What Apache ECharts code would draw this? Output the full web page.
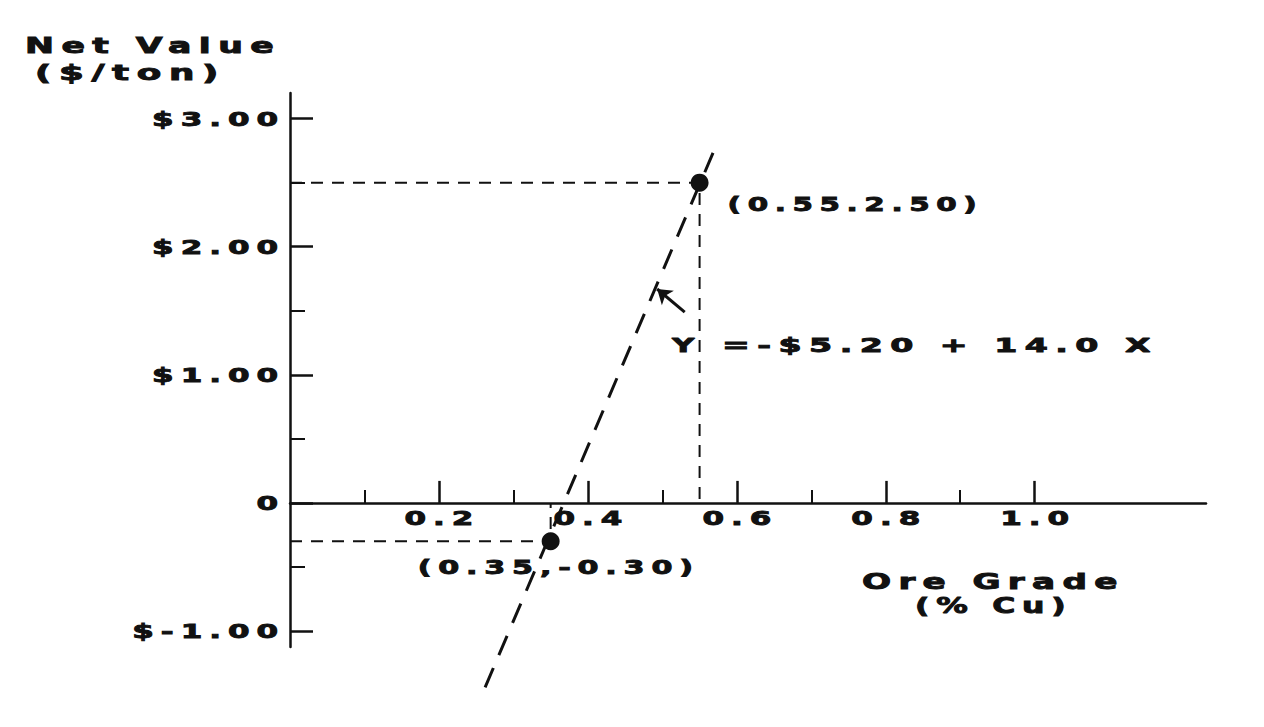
<!DOCTYPE html>
<html>
<head>
<meta charset="utf-8">
<title>Net Value vs Ore Grade</title>
<script src="https://cdn.jsdelivr.net/npm/echarts@6/dist/echarts.min.js"></script>
<style>
  html, body { margin: 0; padding: 0; background: #fff; }
  #chart { width: 1264px; height: 727px; }
  /* the scanned figure uses a wide, spaced-out lettering */
  #chart text { letter-spacing: 4.5px; }
</style>
</head>
<body>
<div id="chart"></div>
<script>
  // ore grade (% Cu) and net value ($/ton)
  var xMajorTicks = [0.2, 0.4, 0.6, 0.8, 1.0];
  var xMinorTicks = [0.1, 0.3, 0.5, 0.7, 0.9];
  var yMajorTicks = [-1, 0, 1, 2, 3];
  var yMinorTicks = [-0.5, 0.5, 1.5, 2.5];
  var yTickLabels = ['$-1.00', '0', '$1.00', '$2.00', '$3.00'];

  var pointsX = [0.55, 0.35];
  var pointsY = [2.50, -0.30];
  var pointLabels = ['(0.55.2.50)', '(0.35,-0.30)'];

  // ends of the dashed regression line, as drawn
  var lineX = [0.262, 0.573];
  var lineY = [-1.44, 2.80];

  // small arrow pointing at the line
  var arrowFrom = [0.530, 1.49];
  var arrowTo = [0.493, 1.67];

  var FONT = 'DejaVu Sans';
  var INK = '#111';

  var chart = echarts.init(document.getElementById('chart'), null, {renderer: 'svg'});

  /*每个点的虚线：从 y 轴到点，再到 x 轴*/
  var guideSeries = [];
  for (var i = 0; i < pointsX.length; i++) {
    guideSeries.push({
      type: 'line',
      data: [[0, pointsY[i]], [pointsX[i], pointsY[i]], [pointsX[i], 0]],
      symbol: 'none',
      silent: true,
      lineStyle: {color: INK, width: 2, type: [12, 9]},
      z: 2
    });
  }

  var option = {
    animation: false,
    backgroundColor: '#fff',
    grid: {left: 290, right: 58, top: 93, bottom: 80, outerBoundsMode: 'none'},
    xAxis: [{
      type: 'value',
      min: 0,
      max: 1.23,
      position: 'bottom',
      axisLine: {show: true, onZero: true, onZeroAxisIndex: 0, lineStyle: {color: INK, width: 2.5}},
      axisTick: {show: true, inside: true, length: 22, customValues: xMajorTicks, lineStyle: {color: INK, width: 2.5}},
      axisLabel: {show: false},
      splitLine: {show: false}
    }, {
      type: 'value',
      min: 0,
      max: 1.23,
      position: 'bottom',
      axisLine: {show: false, onZero: true, onZeroAxisIndex: 0},
      axisTick: {show: true, inside: true, length: 13, customValues: xMinorTicks, lineStyle: {color: INK, width: 2}},
      axisLabel: {show: false},
      splitLine: {show: false}
    }],
    yAxis: [{
      type: 'value',
      min: -1.125,
      max: 3.2,
      position: 'left',
      axisLine: {show: true, onZero: true, onZeroAxisIndex: 0, lineStyle: {color: INK, width: 2.5}},
      axisTick: {show: true, inside: true, length: 23, customValues: yMajorTicks, lineStyle: {color: INK, width: 2.5}},
      axisLabel: {show: false},
      splitLine: {show: false}
    }, {
      type: 'value',
      min: -1.125,
      max: 3.2,
      position: 'left',
      axisLine: {show: false, onZero: true, onZeroAxisIndex: 0},
      axisTick: {show: true, inside: true, length: 15, customValues: yMinorTicks, lineStyle: {color: INK, width: 2}},
      axisLabel: {show: false},
      splitLine: {show: false}
    }],
    series: guideSeries.concat([{
      type: 'line',
      name: 'Y = -5.20 + 14.0 X',
      data: [[lineX[0], lineY[0]], [lineX[1], lineY[1]]],
      symbol: 'none',
      silent: true,
      clip: false,
      lineStyle: {color: INK, width: 3, type: [21, 14]},
      z: 3,
      markLine: {
        silent: true,
        symbol: ['none', 'arrow'],
        symbolSize: 14,
        label: {show: false},
        lineStyle: {color: INK, width: 3, type: 'solid'},
        data: [[{coord: arrowFrom}, {coord: arrowTo}]]
      }
    }, {
      type: 'scatter',
      data: pointsX.map(function (x, k) { return [x, pointsY[k]]; }),
      symbol: 'circle',
      symbolSize: 18,
      itemStyle: {color: INK, opacity: 1},
      z: 5
    }])
  };

  chart.setOption(option);

  /*---------- 文字：宽体字，用 scaleX 拉宽 ----------*/
  function px(x, y) {
    return chart.convertToPixel({xAxisIndex: 0, yAxisIndex: 0}, [x, y]);
  }

  function wideText(text, x, y, align, sx, size) {
    return {
      type: 'text',
      x: x,
      y: y,
      scaleX: sx,
      silent: true,
      style: {
        text: text,
        fill: INK,
        stroke: INK,
        lineWidth: 0.9,
        font: 'bold ' + size + 'px "' + FONT + '"',
        textAlign: align,
        textVerticalAlign: 'middle'
      }
    };
  }

  var gfx = [];
  // y tick labels
  for (var a = 0; a < yMajorTicks.length; a++) {
    var p = px(0, yMajorTicks[a]);
    gfx.push(wideText(yTickLabels[a], p[0] - 5, p[1], 'right', 1.55, 20));
  }
  // x tick labels
  for (var b = 0; b < xMajorTicks.length; b++) {
    var q = px(xMajorTicks[b], 0);
    gfx.push(wideText(xMajorTicks[b].toFixed(1), q[0] + 3.5, q[1] + 15, 'center', 1.55, 20));
  }
  // point labels
  var labelOffset = [[28, 22], [-133, 26]];
  var labelScale = [1.47, 1.51];
  for (var c = 0; c < pointsX.length; c++) {
    var r = px(pointsX[c], pointsY[c]);
    gfx.push(wideText(pointLabels[c], r[0] + labelOffset[c][0], r[1] + labelOffset[c][1], 'left', labelScale[c], 20));
  }
  // axis names and equation
  gfx.push(wideText('Net Value', 25, 46, 'left', 1.65, 21));
  gfx.push(wideText('($/ton)', 35, 73, 'left', 1.7, 21));
  gfx.push(wideText('Ore Grade', 862, 582, 'left', 1.63, 21));
  gfx.push(wideText('(% Cu)', 915, 606, 'left', 1.5, 21));
  gfx.push(wideText('Y', 672, 345, 'left', 1.55, 20));
  gfx.push(wideText('=-$5.20 + 14.0 X', 722, 345, 'left', 1.66, 20));

  chart.setOption({graphic: gfx});
</script>
</body>
</html>
